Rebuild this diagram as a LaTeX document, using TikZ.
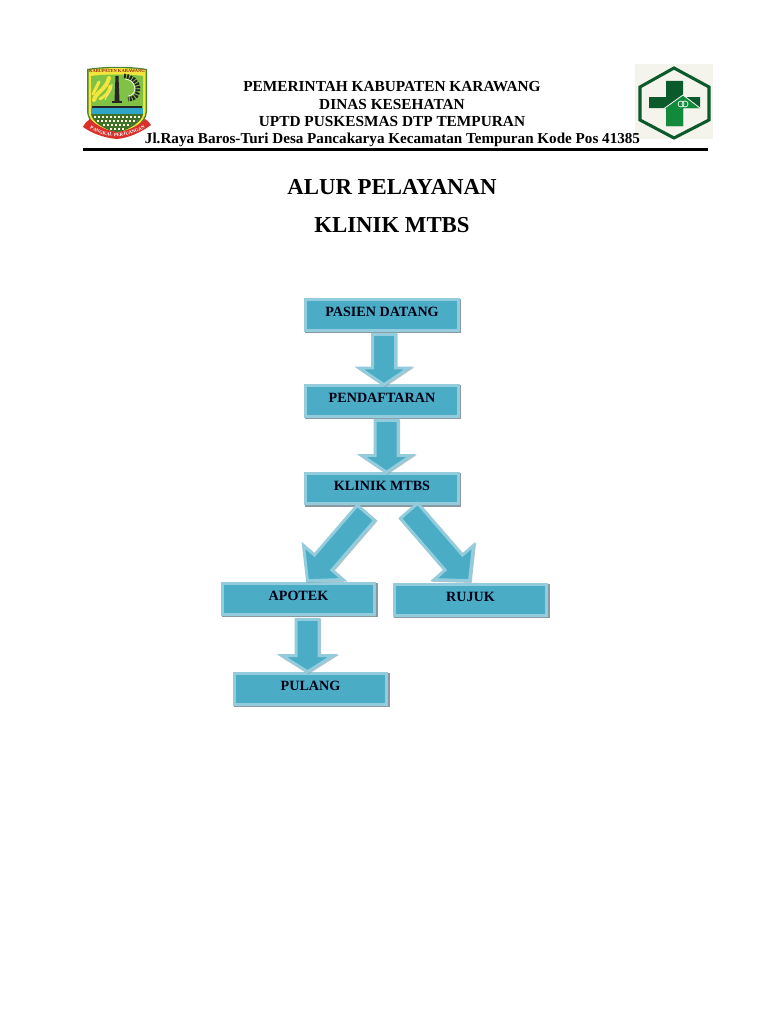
\documentclass[tikz,border=0pt]{standalone}
\usepackage{fontspec}
\setmainfont{Liberation Serif}
\usetikzlibrary{calc,shadows,decorations.text}
\definecolor{boxfill}{HTML}{4BACC6}
\definecolor{boxedge}{HTML}{93CDDD}
\definecolor{boxshadow}{HTML}{8A9AA0}
\definecolor{kdark}{HTML}{0B5A2B}
\definecolor{klight}{HTML}{128A3C}
\definecolor{lgreen}{HTML}{6DBB45}
\definecolor{lyellow}{HTML}{F2E63C}
\definecolor{lred}{HTML}{D8302A}
\definecolor{lblue}{HTML}{2FA6C8}
\tikzset{
  flowbox/.style={draw=boxedge,fill=boxfill,line width=2.4pt,minimum width=114.5pt,minimum height=23pt,
    inner sep=0pt,outer sep=0pt,font=\bfseries\fontsize{10.6pt}{11pt}\selectfont,text=black!92!blue,text height=7.5pt,text depth=5pt,
    drop shadow={shadow xshift=0.9pt,shadow yshift=-0.9pt,draw=boxshadow,line width=2.4pt,fill=boxshadow,opacity=1}},
  blockarrow/.style={draw=boxedge,fill=boxfill,line width=2.2pt,line join=miter,miter limit=6,
    drop shadow={shadow xshift=0.6pt,shadow yshift=-0.6pt,draw=boxshadow,line width=2.2pt,miter limit=6,fill=boxshadow,opacity=.6}},
  headline/.style={font=\bfseries\fontsize{11.5pt}{13pt}\selectfont,inner sep=0pt},
  titleline/.style={font=\bfseries\fontsize{17.1pt}{20pt}\selectfont,inner sep=0pt}
}
% start, tip, half shaft, half head, head length
\newcommand{\flowarrow}[5]{%
  \coordinate (fa) at (#1); \coordinate (fb) at (#2);
  \coordinate (fc) at ($(fb)!#5!(fa)$);
  \path[blockarrow] ($(fa)!#3!90:(fb)$) -- ($(fc)!#3!90:(fb)$) -- ($(fc)!#4!90:(fb)$) -- (fb)
    -- ($(fc)!#4!-90:(fb)$) -- ($(fc)!#3!-90:(fb)$) -- ($(fa)!#3!-90:(fb)$) -- cycle;}
\begin{document}
\begin{tikzpicture}[x=0.75pt,y=-0.75pt]
\useasboundingbox (0,0) rectangle (768,1024);
\fill[white] (0,0) rectangle (768,1024);

% left emblem
\fill[lgreen!70!black] (87,69) .. controls (105,66) and (130,66) .. (147,69) -- (147,112) .. controls (146,124) and (132,134) .. (117,138) .. controls (102,134) and (88,124) .. (87,112) -- cycle;
\fill[lyellow] (88.5,70) .. controls (105,67.5) and (130,67.5) .. (145.5,70) -- (145.5,112) .. controls (145,122) and (131,132) .. (117,136) .. controls (103,132) and (89,122) .. (88.5,112) -- cycle;
\fill[lgreen!85!lyellow] (91,76) .. controls (105,74) and (130,74) .. (143,76) -- (143,108) -- (91,108) -- cycle;
\node[inner sep=0pt,font=\bfseries\fontsize{3.4pt}{4pt}\selectfont,text=lred!70!black] (logotext) at (117,71.5) {KABUPATEN KARAWANG};
% rice ear
\draw[lyellow,line width=3pt,line cap=round] (94,100) .. controls (96,92) and (106,90) .. (109,78);
\draw[lyellow,line width=2.2pt,line cap=round] (93,94) -- (99,82) (100,99) .. controls (105,96) and (109,93) .. (110,86);
% swoosh
\draw[white!30!lyellow,line width=0.8pt] (105,100) .. controls (107,94) and (112,92) .. (112,84);
% monolith
\fill[black!85] (115.5,76) -- (118.5,76) -- (119.5,101) -- (114.5,101) -- cycle;
\fill[black!85] (112,101) rectangle (122,103);
% gear arc
\draw[black!85,line width=3.4pt,dash pattern=on 1.4pt off 0.9pt] (124,76) .. controls (141,76) and (143,100) .. (128,99);
\draw[white,line width=0.5pt] (125,79) .. controls (137,80) and (138,95) .. (128,96);
% water and field
\fill[black!85] (92,106) rectangle (142,107.5);
\fill[lblue] (91,107.5) rectangle (143,114);
\fill[lgreen!60!black] (91,114) -- (143,114) .. controls (142,122) and (130,129) .. (117,133) .. controls (104,129) and (92,122) .. (91,114) -- cycle;
\foreach \py/\pa/\pb in {117/94/140,121/97/137,125/103/131,129/110/124}
  \draw[white!85!lyellow,line width=1.2pt,dash pattern=on 1.3pt off 1.7pt] (\pa,\py) -- (\pb,\py);
% ribbon
\fill[lred] (83,127) .. controls (85,123) and (87,121) .. (90,119) .. controls (98,127) and (108,131) .. (117,132) .. controls (127,131) and (137,127) .. (145,119) .. controls (148,121) and (150,123) .. (151,125)
  .. controls (140,133) and (128,138) .. (117,139) .. controls (105,138) and (93,134) .. (83,127) -- cycle;
\path[decorate,decoration={text along path,text align=center,text={|\bfseries\fontsize{3.6pt}{4pt}\selectfont\color{white}|PANGKAL PERJUANGAN}}]
  (86,126.5) .. controls (96,133) and (106,136) .. (117,136.5) .. controls (128,136) and (138,133) .. (149,125);

% right emblem
\fill[black!5!white!97!yellow] (635,64) rectangle (713,139);
\draw[kdark,line width=2.3pt,line join=miter] (674,68) -- (709,87) -- (709,120) -- (674,138) -- (640,120) -- (640,87) -- cycle;
\fill[kdark] (666,81) rectangle (683,97) (649,97) rectangle (700,108) (666,108) rectangle (683,126);
\fill[klight] (683,95) -- (700,108) -- (683,108) -- (683,126) -- (666,126) -- (666,108) -- (662,110) -- cycle;
\draw[white,line width=0.6pt] (662,110) -- (683,95) -- (700,108);
\draw[white,line width=0.5pt] (681,104) circle (3) (685,104) circle (3);

% header
\node[headline] (h1) at (392,87) {PEMERINTAH KABUPATEN KARAWANG};
\node[headline] (h2) at (392,104) {DINAS KESEHATAN};
\node[headline] (h3) at (392,121) {UPTD PUSKESMAS DTP TEMPURAN};
\node[headline,font=\bfseries\fontsize{11.35pt}{13pt}\selectfont] (h4) at (392.5,139.5) {Jl.Raya Baros-Turi Desa Pancakarya Kecamatan Tempuran Kode Pos 41385};
\coordinate (ruleL) at (83,149.5); \coordinate (ruleR) at (708,149.5);
\draw[black,line width=1.9pt] (ruleL) -- (ruleR);

% title
\node[titleline] (t1) at (392,187) {ALUR PELAYANAN};
\node[titleline] (t2) at (392,225) {KLINIK MTBS};

% boxes
\node[flowbox] (pasien) at (382,315) {PASIEN DATANG};
\node[flowbox] (daftar) at (382,401) {PENDAFTARAN};
\node[flowbox] (klinik) at (382,488.5) {KLINIK MTBS};
\node[flowbox] (apotek) at (298.5,599) {APOTEK};
\node[flowbox] (rujuk) at (470.5,600) {RUJUK};
\node[flowbox] (pulang) at (310.5,689) {PULANG};

% arrows
\flowarrow{$(pasien.south)+(2,4)$}{$(daftar.north)+(2,-1)$}{8.6pt}{18.5pt}{12.5pt}
\flowarrow{$(daftar.south)+(4.5,4)$}{$(klinik.north)+(4.5,-1)$}{8.6pt}{18.5pt}{12.5pt}
\flowarrow{$(klinik.south)+(-16,9)$}{$(apotek.north)+(9,-3)$}{8.6pt}{19.5pt}{18pt}
\flowarrow{$(klinik.south)+(27,7)$}{$(rujuk.north)+(-1,-4)$}{8.6pt}{19.5pt}{18pt}
\flowarrow{$(apotek.south)+(9,5)$}{$(pulang.north)+(-3,-2)$}{8.6pt}{19pt}{12pt}
\end{tikzpicture}
\end{document}
